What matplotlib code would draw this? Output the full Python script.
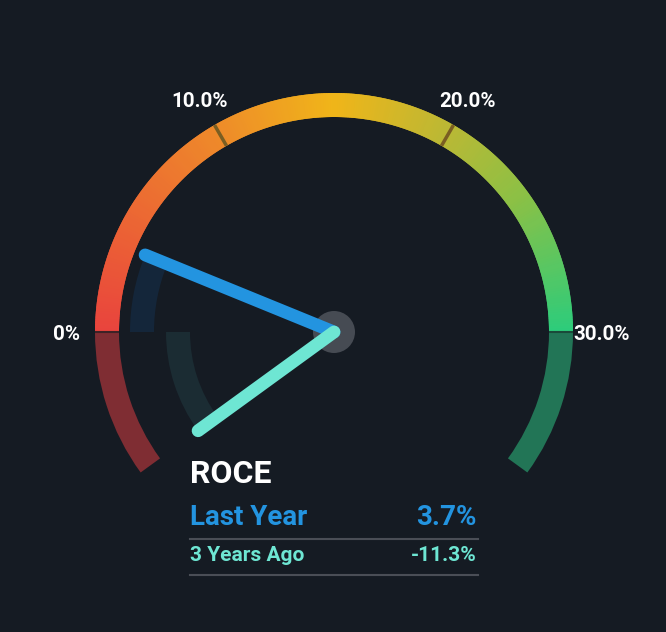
import numpy as np
import matplotlib
matplotlib.use("Agg")
import matplotlib.pyplot as plt
from matplotlib.patches import Wedge, Circle
from matplotlib.colors import LinearSegmentedColormap

# ---- data ----
metric = "ROCE"
series_labels = ["Last Year", "3 Years Ago"]
series_values = [3.7, -11.3]
value_labels = ["3.7%", "-11.3%"]
tick_values = [0, 10, 20, 30]
tick_labels = ["0%", "10.0%", "20.0%", "30.0%"]
scale_min, scale_max = 0, 30
visible_min, visible_max = -6, 36

# ---- style ----
BG = "#151b23"
series_colors = ["#2394e0", "#6ee6d3"]
track_colors = ["#14263a", "#1b2c33"]
W, H = 666, 632
CX, CY = 334, H - 332
R_OUT, R_W = 239, 24
track_r = [204, 168]

plt.rcParams['font.family'] = ['Roboto', 'DejaVu Sans']

fig = plt.figure(figsize=(W / 100, H / 100), dpi=100, facecolor=BG)
ax = fig.add_axes([0, 0, 1, 1])
ax.set_xlim(0, W)
ax.set_ylim(0, H)
ax.set_aspect('equal')
ax.axis('off')
ax.set_facecolor(BG)

deg_per = 180.0 / (scale_max - scale_min)


def ang(v):
    v = np.clip(v, visible_min, visible_max)
    return 180.0 - (v - scale_min) * deg_per


cmap = LinearSegmentedColormap.from_list(
    "g", [(0.0, "#e9443d"), (0.33, "#ee8a2a"), (0.5, "#f0b519"),
          (0.66, "#bcb834"), (0.8, "#8cc045"), (1.0, "#2dcc7b")])

# gradient main arc
n = 300
edges = np.linspace(scale_min, scale_max, n + 1)
for i in range(n):
    a1, a2 = ang(edges[i + 1]), ang(edges[i])
    ax.add_patch(Wedge((CX, CY), R_OUT, a1 - 0.3, a2 + 0.3, width=R_W,
                       color=cmap((edges[i] - scale_min) / (scale_max - scale_min)), lw=0))

# dark extensions
ax.add_patch(Wedge((CX, CY), R_OUT, ang(scale_min), ang(visible_min), width=R_W,
                   color="#7f2d33", lw=0))
ax.add_patch(Wedge((CX, CY), R_OUT, ang(visible_max), ang(scale_max), width=R_W,
                   color="#227556", lw=0))

# tick marks
for tv in tick_values:
    a = np.deg2rad(ang(tv))
    r1, r2 = R_OUT - R_W, R_OUT
    if tv in (scale_min, scale_max):
        col, lw = "#3e2226" if tv == scale_min else "#1a4a3a", 1.5
    else:
        col, lw = "#7a5e22", 2.5
    ax.plot([CX + r1 * np.cos(a), CX + r2 * np.cos(a)],
            [CY + r1 * np.sin(a), CY + r2 * np.sin(a)], color=col, lw=lw,
            solid_capstyle='butt', zorder=3)

# tick labels
label_pos = [(66, 340, 'center'), (200, 107, 'center'), (467, 107, 'center'), (573, 340, 'left')]
for lab, (x, y, ha) in zip(tick_labels, label_pos):
    ax.text(x, H - y, lab, color="white", fontsize=14.8, fontweight='bold',
            ha=ha, va='baseline')

# inner tracks
for v, r, c in zip(series_values, track_r, track_colors):
    a = ang(v)
    t1, t2 = (a, 180) if a < 180 else (180, a)
    ax.add_patch(Wedge((CX, CY), r, t1, t2, width=24, color=c, lw=0, zorder=2))

# hub
ax.add_patch(Circle((CX, CY), 21, color="#464b53", lw=0, zorder=4))

# needles
for v, r, c in zip(series_values, track_r, series_colors):
    a = np.deg2rad(ang(v))
    ax.plot([CX, CX + r * np.cos(a)], [CY, CY + r * np.sin(a)], color=c,
            lw=9.2, solid_capstyle='round', zorder=5)

# legend text
ax.text(190, H - 483, metric, color="white", fontsize=23, fontweight='bold',
        ha='left', va='baseline')
ax.text(190, H - 525, series_labels[0], color=series_colors[0], fontsize=20,
        fontweight='bold', ha='left', va='baseline')
ax.text(477, H - 525, value_labels[0], color=series_colors[0], fontsize=20,
        fontweight='bold', ha='right', va='baseline')
ax.plot([190, 478], [H - 539, H - 539], color="#4a4e56", lw=1.5)
ax.text(190, H - 561, series_labels[1], color=series_colors[1], fontsize=15,
        fontweight='bold', ha='left', va='baseline')
ax.text(477, H - 561, value_labels[1], color=series_colors[1], fontsize=15,
        fontweight='bold', ha='right', va='baseline')
ax.plot([190, 478], [H - 575, H - 575], color="#4a4e56", lw=1.5)

fig.savefig("out.png", dpi=100, facecolor=BG)
